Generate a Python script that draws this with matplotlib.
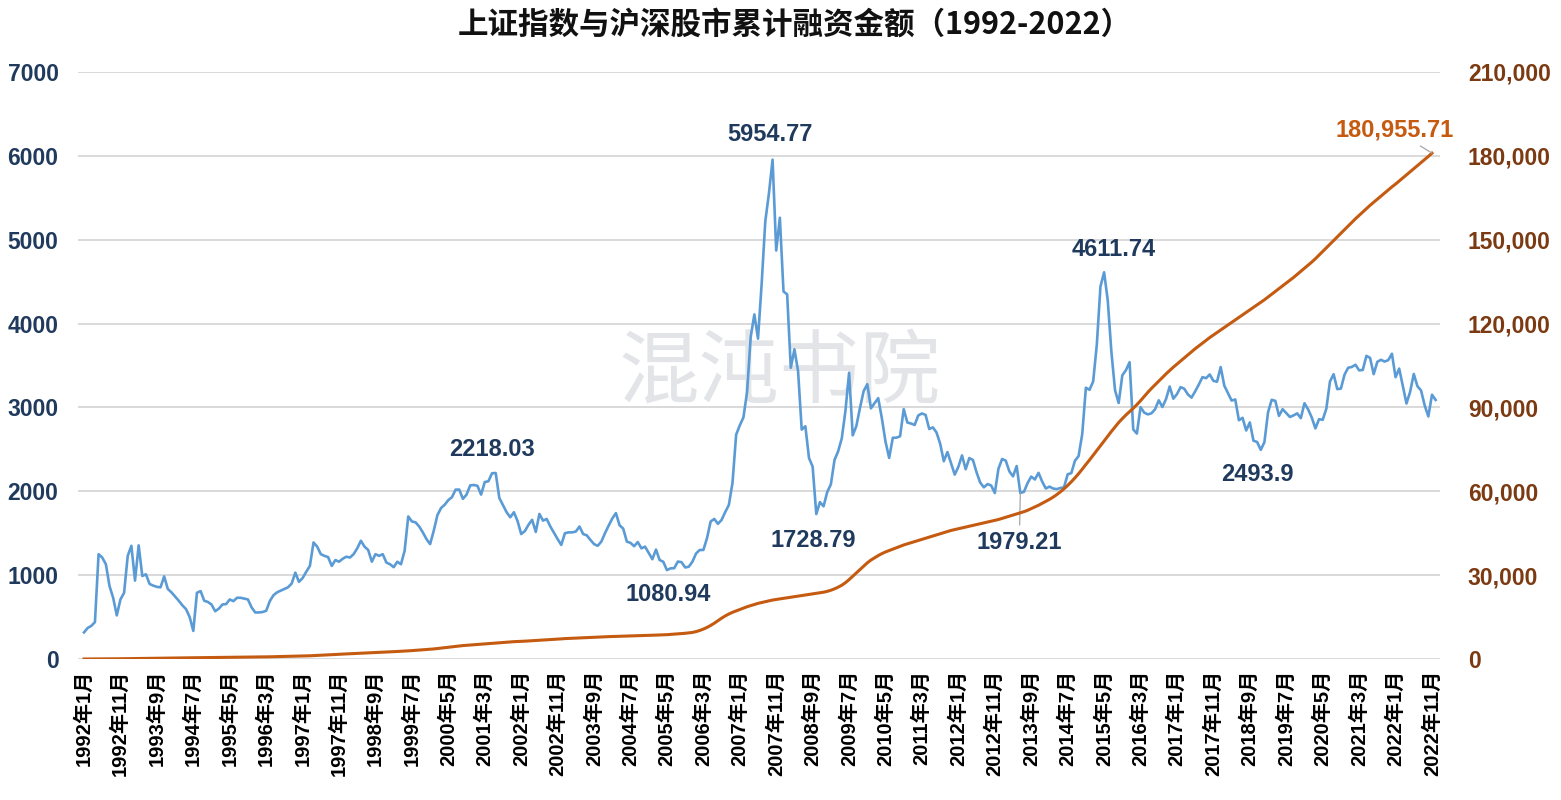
import numpy as np
import matplotlib
matplotlib.use("Agg")
import matplotlib.pyplot as plt

# 上证指数 monthly values, 1992-01 .. 2022-12
sh_1992 = [317, 370, 395, 440, 1250, 1210, 1130, 870, 730, 520, 710, 790]
sh_1993 = [1230, 1350, 935, 1355, 990, 1010, 895, 875, 860, 855, 985, 835]
sh_1994 = [795, 745, 695, 640, 595, 500, 335, 790, 810, 695, 680, 650]
sh_1995 = [570, 600, 650, 655, 710, 690, 730, 730, 720, 710, 615, 555]
sh_1996 = [555, 560, 575, 690, 760, 795, 815, 835, 855, 900, 1030, 920]
sh_1997 = [965, 1040, 1110, 1390, 1340, 1250, 1230, 1215, 1110, 1180, 1160, 1195]
sh_1998 = [1220, 1210, 1250, 1320, 1410, 1340, 1300, 1160, 1250, 1230, 1250, 1150]
sh_1999 = [1130, 1095, 1160, 1130, 1290, 1700, 1640, 1630, 1580, 1510, 1430, 1370]
sh_2000 = [1530, 1715, 1800, 1840, 1895, 1930, 2020, 2020, 1910, 1960, 2070, 2075]
sh_2001 = [2065, 1960, 2110, 2120, 2215, 2218.03, 1920, 1835, 1750, 1690, 1750, 1645]
sh_2002 = [1490, 1525, 1600, 1660, 1515, 1730, 1650, 1670, 1580, 1505, 1430, 1360]
sh_2003 = [1500, 1510, 1510, 1520, 1580, 1490, 1475, 1420, 1370, 1350, 1400, 1500]
sh_2004 = [1590, 1675, 1740, 1595, 1555, 1400, 1385, 1345, 1395, 1320, 1340, 1265]
sh_2005 = [1190, 1305, 1180, 1160, 1060, 1080.94, 1083, 1162, 1155, 1092, 1100, 1161]
sh_2006 = [1258, 1300, 1300, 1440, 1640, 1670, 1612, 1658, 1752, 1837, 2100, 2675]
sh_2007 = [2786, 2881, 3183, 3841, 4109, 3820, 4471, 5218, 5552, 5954.77, 4871, 5262]
sh_2008 = [4383, 4348, 3473, 3693, 3433, 2736, 2775, 2397, 2293, 1728.79, 1871, 1821]
sh_2009 = [1991, 2082, 2373, 2477, 2632, 2959, 3412, 2667, 2779, 2996, 3195, 3277]
sh_2010 = [2989, 3051, 3110, 2870, 2592, 2398, 2638, 2639, 2656, 2979, 2820, 2808]
sh_2011 = [2791, 2905, 2928, 2911, 2743, 2762, 2701, 2568, 2359, 2468, 2333, 2199]
sh_2012 = [2292, 2428, 2263, 2396, 2373, 2225, 2103, 2047, 2086, 2069, 1980, 2269]
sh_2013 = [2385, 2366, 2237, 2178, 2301, 1979.21, 1994, 2098, 2175, 2141, 2220, 2116]
sh_2014 = [2033, 2056, 2033, 2026, 2039, 2048, 2202, 2217, 2364, 2420, 2683, 3235]
sh_2015 = [3210, 3310, 3748, 4442, 4611.74, 4277, 3664, 3206, 3053, 3383, 3445, 3539]
sh_2016 = [2738, 2688, 3004, 2938, 2917, 2930, 2979, 3085, 3005, 3100, 3250, 3104]
sh_2017 = [3159, 3242, 3223, 3155, 3117, 3192, 3273, 3361, 3349, 3393, 3317, 3307]
sh_2018 = [3481, 3259, 3169, 3082, 3095, 2847, 2876, 2725, 2821, 2603, 2588, 2493.9]
sh_2019 = [2585, 2941, 3091, 3078, 2899, 2979, 2933, 2886, 2905, 2929, 2872, 3050]
sh_2020 = [2977, 2880, 2750, 2860, 2852, 2985, 3310, 3396, 3218, 3225, 3392, 3473]
sh_2021 = [3483, 3509, 3442, 3447, 3615, 3591, 3397, 3544, 3568, 3547, 3564, 3640]
sh_2022 = [3361, 3463, 3252, 3047, 3186, 3399, 3253, 3202, 3024, 2893, 3151, 3089]

# 沪深股市累计融资金额 (亿元), monthly, 1992-01 .. 2022-11
fin_1992 = [0, 5, 10, 20, 30, 40, 50, 60, 70, 80, 90, 100]
fin_1993 = [120, 140, 160, 180, 200, 220, 240, 260, 280, 300, 320, 340]
fin_1994 = [355, 370, 385, 400, 415, 430, 445, 460, 475, 490, 505, 520]
fin_1995 = [535, 550, 565, 580, 595, 610, 625, 640, 655, 670, 685, 700]
fin_1996 = [720, 740, 760, 790, 820, 850, 880, 910, 930, 950, 980, 1010]
fin_1997 = [1050, 1100, 1150, 1220, 1300, 1380, 1450, 1520, 1580, 1640, 1700, 1760]
fin_1998 = [1820, 1880, 1940, 2000, 2060, 2120, 2180, 2240, 2300, 2360, 2420, 2480]
fin_1999 = [2550, 2620, 2690, 2760, 2830, 2900, 3000, 3100, 3200, 3300, 3400, 3500]
fin_2000 = [3600, 3750, 3900, 4050, 4200, 4350, 4500, 4650, 4800, 4900, 5000, 5100]
fin_2001 = [5200, 5300, 5400, 5500, 5600, 5700, 5800, 5900, 6000, 6100, 6200, 6250]
fin_2002 = [6300, 6380, 6460, 6540, 6620, 6700, 6780, 6860, 6940, 7020, 7100, 7200]
fin_2003 = [7300, 7360, 7420, 7480, 7540, 7600, 7660, 7720, 7780, 7840, 7900, 7950]
fin_2004 = [8000, 8040, 8080, 8120, 8160, 8200, 8240, 8280, 8320, 8360, 8400, 8450]
fin_2005 = [8500, 8550, 8600, 8650, 8700, 8800, 8900, 9000, 9100, 9200, 9350, 9500]
fin_2006 = [9800, 10200, 10700, 11300, 12000, 12800, 13700, 14600, 15400, 16100, 16700, 17200]
fin_2007 = [17700, 18200, 18700, 19100, 19500, 19900, 20200, 20500, 20800, 21100, 21300, 21500]
fin_2008 = [21700, 21900, 22100, 22300, 22500, 22700, 22900, 23100, 23300, 23500, 23700, 23900]
fin_2009 = [24200, 24600, 25100, 25700, 26400, 27300, 28400, 29600, 30800, 32000, 33200, 34400]
fin_2010 = [35400, 36200, 37000, 37700, 38300, 38800, 39300, 39800, 40300, 40800, 41200, 41600]
fin_2011 = [42000, 42400, 42800, 43200, 43600, 44000, 44400, 44800, 45200, 45600, 46000, 46300]
fin_2012 = [46600, 46900, 47200, 47500, 47800, 48100, 48400, 48700, 49000, 49300, 49600, 49900]
fin_2013 = [50300, 50700, 51100, 51500, 51900, 52300, 52700, 53200, 53800, 54400, 55000, 55700]
fin_2014 = [56400, 57100, 57900, 58800, 59800, 60900, 62100, 63400, 64800, 66300, 67900, 69600]
fin_2015 = [71200, 72900, 74600, 76300, 78000, 79700, 81400, 83000, 84600, 86000, 87300, 88500]
fin_2016 = [89700, 91000, 92400, 93900, 95400, 96800, 98100, 99400, 100700, 102000, 103200, 104400]
fin_2017 = [105500, 106600, 107700, 108800, 109900, 111000, 112000, 113000, 114000, 115000, 115900, 116800]
fin_2018 = [117700, 118600, 119500, 120400, 121300, 122200, 123100, 124000, 124900, 125800, 126700, 127600]
fin_2019 = [128500, 129500, 130500, 131500, 132500, 133500, 134500, 135500, 136500, 137600, 138700, 139800]
fin_2020 = [140900, 142000, 143200, 144500, 145800, 147100, 148400, 149700, 151000, 152300, 153600, 154900]
fin_2021 = [156200, 157500, 158700, 159900, 161100, 162300, 163400, 164500, 165600, 166700, 167800, 168900]
fin_2022 = [169900, 171000, 172100, 173200, 174300, 175400, 176500, 177600, 178700, 179800, 180955.71]

tick_labels = ["1992年1月", "1992年11月", "1993年9月", "1994年7月", "1995年5月", "1996年3月",
               "1997年1月", "1997年11月", "1998年9月", "1999年7月", "2000年5月", "2001年3月",
               "2002年1月", "2002年11月", "2003年9月", "2004年7月", "2005年5月", "2006年3月",
               "2007年1月", "2007年11月", "2008年9月", "2009年7月", "2010年5月", "2011年3月",
               "2012年1月", "2012年11月", "2013年9月", "2014年7月", "2015年5月", "2016年3月",
               "2017年1月", "2017年11月", "2018年9月", "2019年7月", "2020年5月", "2021年3月",
               "2022年1月", "2022年11月"]

# labelled points (value, text-offset in pixels)
sh_notes = [(2218.03, (-4, 24)), (5954.77, (-3, 25)), (1080.94, (-2, -26)),
            (1728.79, (-3, -26)), (4611.74, (10, 23)), (2493.9, (-3, -25))]

sh = np.array(sh_1992 + sh_1993 + sh_1994 + sh_1995 + sh_1996 + sh_1997 + sh_1998 + sh_1999
              + sh_2000 + sh_2001 + sh_2002 + sh_2003 + sh_2004 + sh_2005 + sh_2006 + sh_2007
              + sh_2008 + sh_2009 + sh_2010 + sh_2011 + sh_2012 + sh_2013 + sh_2014 + sh_2015
              + sh_2016 + sh_2017 + sh_2018 + sh_2019 + sh_2020 + sh_2021 + sh_2022)
fin = np.array(fin_1992 + fin_1993 + fin_1994 + fin_1995 + fin_1996 + fin_1997 + fin_1998
               + fin_1999 + fin_2000 + fin_2001 + fin_2002 + fin_2003 + fin_2004 + fin_2005
               + fin_2006 + fin_2007 + fin_2008 + fin_2009 + fin_2010 + fin_2011 + fin_2012
               + fin_2013 + fin_2014 + fin_2015 + fin_2016 + fin_2017 + fin_2018 + fin_2019
               + fin_2020 + fin_2021 + fin_2022)

plt.rcParams['font.family'] = ['Liberation Sans', 'Noto Sans CJK SC', 'DejaVu Sans']

blue = '#5b9bd5'
orange = '#c55a11'
navy = '#1f3a5c'
brown = '#7b3a12'

fig = plt.figure(figsize=(15.61, 8), dpi=100)
ax = fig.add_axes([78 / 1561, 1 - 659 / 800, 1362 / 1561, 587 / 800])
ax2 = ax.twinx()

ax.plot(np.arange(len(sh)), sh, color=blue, lw=1.9, zorder=2)
ax2.plot(np.arange(len(fin)), fin, color=orange, lw=2.2)

ax.set_xlim(-1.65, 372.2)
ax.set_ylim(0, 7000)
ax2.set_ylim(0, 210000)
ax.set_yticks(np.arange(0, 7001, 1000))
ax2.set_yticks(np.arange(0, 210001, 30000))
ax2.set_yticklabels([f"{v:,}" for v in range(0, 210001, 30000)])
ax.set_xticks(np.arange(0, 10 * len(tick_labels), 10))
ax.set_xticklabels(tick_labels, rotation=90, fontsize=14.5, fontweight='bold')

ax.grid(axis='y', color='#d9d9d9', lw=1.4)
ax.set_axisbelow(True)
for a in (ax, ax2):
    for s in a.spines.values():
        s.set_visible(False)
    a.tick_params(length=0)
ax.tick_params(axis='y', labelsize=16.5, labelcolor=navy, pad=14)
ax.tick_params(axis='x', pad=8)
for t in ax.get_yticklabels():
    t.set_fontweight('bold')
ax2.tick_params(axis='y', labelsize=16.5, labelcolor=brown, pad=20)
for t in ax2.get_yticklabels():
    t.set_fontweight('bold')

# watermark
ax.text(0.515, 0.485, "混沌书院", transform=ax.transAxes, fontsize=58,
        family=['Noto Sans CJK SC'], fontweight='light', color='#e2e4e7',
        ha='center', va='center', zorder=0.5)

for val, off in sh_notes:
    i = int(np.where(sh == val)[0][0])
    ax.annotate(f"{val:g}", xy=(i, val), xytext=off, textcoords='offset pixels',
                ha='center', va='center', fontsize=17, fontweight='bold', color=navy)

i = int(np.where(sh == 1979.21)[0][0])
ax.annotate("1979.21", xy=(i, 1979.21), xytext=(-1, -49), textcoords='offset pixels',
            ha='center', va='center', fontsize=17, fontweight='bold', color=navy,
            arrowprops=dict(arrowstyle='-', color='#a6a6a6', lw=0.9, shrinkA=2, shrinkB=0))

ax2.annotate(f"{fin[-1]:,.2f}", xy=(len(fin) - 1, fin[-1]), xytext=(-37, 23),
             textcoords='offset pixels', ha='center', va='center', fontsize=17,
             fontweight='bold', color=orange,
             arrowprops=dict(arrowstyle='-', color='#a6a6a6', lw=0.9, shrinkA=2, shrinkB=0))

fig.text(795 / 1561, 1 - 25 / 800, "上证指数与沪深股市累计融资金额（1992-2022）",
         ha='center', va='center', fontsize=22, fontweight='bold',
         family=['Noto Sans CJK SC'], color='#111111')

fig.savefig("out.png", dpi=100, facecolor='white')
